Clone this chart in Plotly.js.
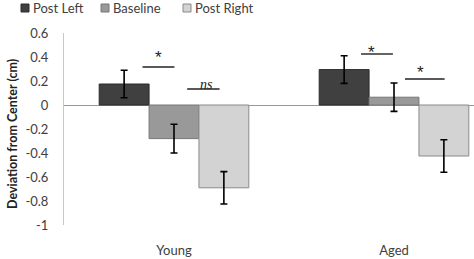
<!DOCTYPE html>
<html><head><meta charset="utf-8">
<script src="https://cdn.plot.ly/plotly-3.0.1.min.js"></script>
<style>html,body{margin:0;padding:0;background:#fff;}#c{width:474px;height:259px;}</style>
</head><body><div id="c"></div>
<script>
const groups = ["Young", "Aged"];
const seriesNames = ["Post Left", "Baseline", "Post Right"];
const postLeft = [0.175, 0.295];
const baseline = [-0.28, 0.065];
const postRight = [-0.69, -0.425];
const errPostLeft = [0.115, 0.115];
const errBaseline = [0.12, 0.118];
const errPostRight = [0.135, 0.135];
const yTickVals = [0.6, 0.4, 0.2, 0, -0.2, -0.4, -0.6, -0.8, -1];
const yTickText = ["0.6", "0.4", "0.2", "0", "-0.2", "-0.4", "-0.6", "-0.8", "-1"];
const sigLabels = ["*", "ns", "*", "*"];

const fills = ["#404040", "#999999", "#d3d3d3"];
const borders = ["#2a2a2a", "#777777", "#8a8a8a"];
const vals = [postLeft, baseline, postRight];
const errs = [errPostLeft, errBaseline, errPostRight];
const FONT = "Lato, 'Open Sans', sans-serif";

const traces = seriesNames.map((n, i) => ({
  type: "bar", name: n, x: groups, y: vals[i],
  marker: {color: fills[i], line: {color: borders[i], width: 1}},
  error_y: {type: "data", array: errs[i], visible: true, color: "#000", thickness: 1.6, width: 3.5}
}));

// significance bracket placement (layout, in category/value units)
const sigPos = [
  {x0: -0.143, x1: 0.002, y: 0.317, tx: -0.069, ty: 0.40},
  {x0: 0.06, x1: 0.207, y: 0.133, tx: 0.146, ty: 0.175},
  {x0: 0.85, x1: 0.995, y: 0.425, tx: 0.896, ty: 0.44},
  {x0: 1.05, x1: 1.23, y: 0.217, tx: 1.12, ty: 0.275}
];

// custom legend positions in pixels
const W = 410, H = 192, L = 64, T = 33;
const px = v => (v - L) / W;
const py = v => (T + H - v) / H;
const legendSq = [21, 101, 183];

const shapes = sigPos.map(s => ({type: "line", xref: "x", yref: "y", x0: s.x0, x1: s.x1, y0: s.y, y1: s.y,
                          line: {color: "#222", width: 1.4}}));
seriesNames.forEach((n, i) => {
  shapes.push({type: "rect", xref: "paper", yref: "paper", x0: px(legendSq[i]), x1: px(legendSq[i] + 8),
               y0: py(12), y1: py(4), fillcolor: fills[i], line: {color: borders[i], width: 1}});
});

const annotations = sigPos.map((s, i) => ({xref: "x", yref: "y", x: s.tx, y: s.ty,
  text: sigLabels[i] === "ns" ? "<i>ns</i>" : sigLabels[i], showarrow: false,
  font: {family: sigLabels[i] === "ns" ? "'Liberation Serif', serif" : "'Liberation Sans', Arial, sans-serif",
         size: sigLabels[i] === "ns" ? 14 : 17, color: "#222"},
  xanchor: "center", yanchor: "middle"}));
seriesNames.forEach((n, i) => {
  annotations.push({xref: "paper", yref: "paper", x: px(legendSq[i] + 10), y: py(8), text: n, showarrow: false,
    xanchor: "left", yanchor: "middle", font: {family: FONT, size: 13, color: "#404040"}});
});
annotations.push({xref: "paper", yref: "paper", x: px(12), y: py(134), text: "<b>Deviation from Center (cm)</b>",
     textangle: -90, showarrow: false, xanchor: "center", yanchor: "middle",
     font: {family: FONT, size: 12.5, color: "#222"}});

const layout = {
  width: 474, height: 259,
  margin: {l: 64, r: 0, t: 33, b: 34},
  paper_bgcolor: "#fff", plot_bgcolor: "#fff",
  font: {family: FONT, size: 13, color: "#404040"},
  barmode: "group", bargap: 0.32, bargroupgap: 0,
  showlegend: false,
  xaxis: {type: "category", range: [-0.5, 1.3636], showline: false, ticks: "", showgrid: false,
          zeroline: false, ticklabelstandoff: 16, tickfont: {family: FONT, size: 13, color: "#404040"}, fixedrange: true},
  yaxis: {range: [-1, 0.6], tickvals: yTickVals, ticktext: yTickText, showline: true, linecolor: "#c8c8c8",
          linewidth: 1, ticks: "", showgrid: false, zeroline: true, zerolinecolor: "#999", zerolinewidth: 1,
          ticklabelstandoff: 12, tickfont: {family: FONT, size: 13, color: "#404040"}, fixedrange: true},
  shapes: shapes,
  annotations: annotations
};
Plotly.newPlot("c", traces, layout, {staticPlot: true});
</script></body></html>
